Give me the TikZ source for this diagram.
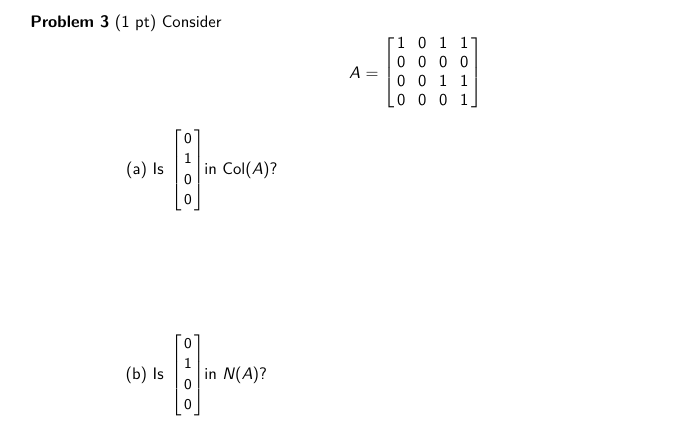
\documentclass[tikz,border=0pt]{standalone}
\usepackage{amsmath}
\renewcommand{\familydefault}{\sfdefault}
\newcommand{\sA}{\textsf{\textit{A}}}
\begin{document}
\begin{tikzpicture}[x=0.6pt,y=-0.6pt,every node/.style={inner sep=0pt,font=\sffamily}]
\useasboundingbox (0,0) rectangle (700,446);
\node[anchor=base west] (title) at (30,28) {\textbf{Problem 3} (1 pt) Consider};
\node[anchor=east] (Aeq) at (379,73) {\sA\ $=$};
\node[anchor=west] (A) at (383,73) {\renewcommand{\arraystretch}{0.95}\setlength{\arraycolsep}{3.8pt}$\left[\begin{array}{@{\,}cccc@{\,}}\mathsf{1}&\mathsf{0}&\mathsf{1}&\mathsf{1}\\\mathsf{0}&\mathsf{0}&\mathsf{0}&\mathsf{0}\\\mathsf{0}&\mathsf{0}&\mathsf{1}&\mathsf{1}\\\mathsf{0}&\mathsf{0}&\mathsf{0}&\mathsf{1}\end{array}\right]$};
\node[anchor=east] (qa) at (164,170) {(a) Is};
\node[anchor=west] (va) at (171,170) {\small\renewcommand{\arraystretch}{1.1}$\left[\begin{array}{@{\,}c@{\,}}\mathsf{0}\\\mathsf{1}\\\mathsf{0}\\\mathsf{0}\end{array}\right]$};
\node[anchor=west] (ta) at (204,170) {in Col(\sA)?};
\node[anchor=east] (qb) at (164,375) {(b) Is};
\node[anchor=west] (vb) at (171,375) {\small\renewcommand{\arraystretch}{1.1}$\left[\begin{array}{@{\,}c@{\,}}\mathsf{0}\\\mathsf{1}\\\mathsf{0}\\\mathsf{0}\end{array}\right]$};
\node[anchor=west] (tb) at (204,375) {in \textit{N}(\sA)?};
\end{tikzpicture}
\end{document}
